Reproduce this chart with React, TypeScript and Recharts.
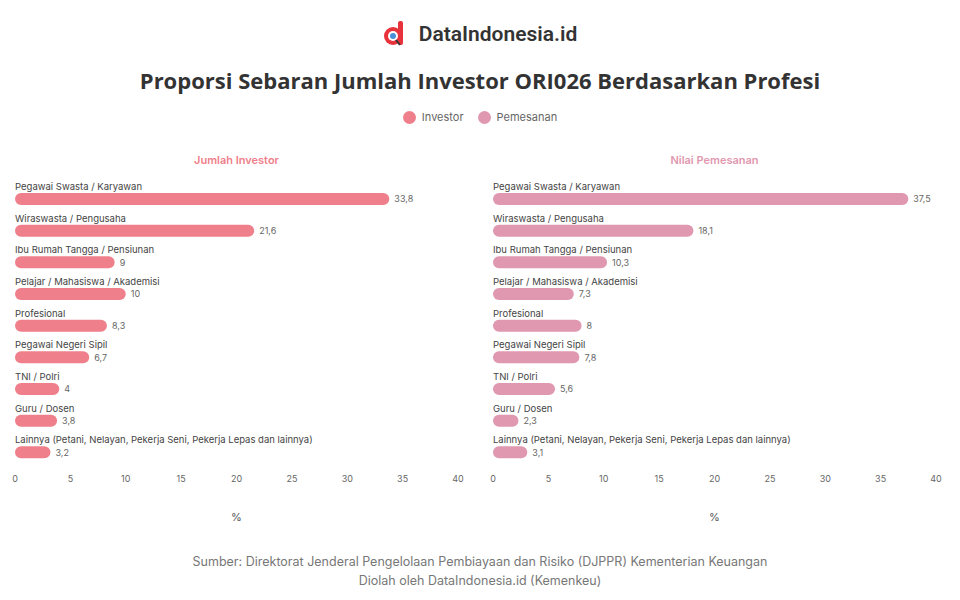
import React from "react";
import { BarChart, Bar, XAxis, YAxis, LabelList } from "recharts";

const categories = [
  "Pegawai Swasta / Karyawan",
  "Wiraswasta / Pengusaha",
  "Ibu Rumah Tangga / Pensiunan",
  "Pelajar / Mahasiswa / Akademisi",
  "Profesional",
  "Pegawai Negeri Sipil",
  "TNI / Polri",
  "Guru / Dosen",
  "Lainnya (Petani, Nelayan, Pekerja Seni, Pekerja Lepas dan lainnya)",
];
const investorValues = [33.8, 21.6, 9.0, 10.0, 8.3, 6.7, 4.0, 3.8, 3.2];
const nominalValues = [37.5, 18.1, 10.3, 7.3, 8.0, 7.8, 5.6, 2.3, 3.1];
const seriesNames = ["Investor", "Pemesanan"];
const panelTitles = ["Jumlah Investor", "Nilai Pemesanan"];
const xTicks = [0, 5, 10, 15, 20, 25, 30, 35, 40];
const colors = ["#EF808B", "#DF98B0"];

const FONT = "Inter, 'Open Sans', sans-serif";

const buildData = (vals: number[]) =>
  categories.map((c, i) => ({ name: c, value: vals[i] }));

const CatLabel = (props: any) => {
  const { x, y, index } = props;
  return (
    <text x={x} y={y - 3} fontSize={9.5} fill="#444" fontFamily={FONT}>
      {categories[index]}
    </text>
  );
};

const Panel = ({ vals, color, title, left }: any) => (
  <div style={{ position: "absolute", left, top: 150, width: 480, height: 390 }}>
    <div
      style={{
        position: "absolute",
        top: 3,
        left: 15,
        width: 443,
        textAlign: "center",
        fontFamily: FONT,
        fontSize: 11,
        fontWeight: 600,
        color,
      }}
    >
      {title}
    </div>
    <BarChart
      width={480}
      height={390}
      layout="vertical"
      data={buildData(vals)}
      margin={{ top: 33, right: 22, bottom: 42, left: 15 }}
      barCategoryGap={0}
    >
      <XAxis
        type="number"
        domain={[0, 40]}
        ticks={xTicks}
        axisLine={false}
        tickLine={false}
        tick={{ fontSize: 9, fill: "#666", fontFamily: FONT }}
        label={{ value: "%", position: "insideBottom", offset: -23, fontSize: 11, fill: "#555", fontFamily: FONT }}
      />
      <YAxis type="category" dataKey="name" hide />
      <Bar dataKey="value" fill={color} barSize={12} radius={[6, 6, 6, 6]} isAnimationActive={false}>
        <LabelList dataKey="name" content={<CatLabel />} />
        <LabelList
          dataKey="value"
          position="right"
          formatter={(v: any) => String(v).replace(".", ",")}
          style={{ fontSize: 9, fill: "#666", fontFamily: FONT }}
        />
      </Bar>
    </BarChart>
  </div>
);

const Logo = () => (
  <svg width={24} height={26} viewBox="0 0 24 26">
    <rect x={15} y={0} width={5} height={24} rx={2} fill="#E8323C" />
    <circle cx={10} cy={15} r={9} fill="#E8323C" />
    <circle cx={10} cy={15} r={5} fill="#fff" />
    <circle cx={10} cy={15} r={3} fill="#4A90D9" />
    <line x1={13} y1={19} x2={17} y2={24} stroke="#333" strokeWidth={2} />
  </svg>
);

export default function App() {
  return (
    <div style={{ position: "absolute", left: 0, top: 0, width: 960, height: 600, background: "#fff", fontFamily: FONT }}>
      <div style={{ position: "absolute", top: 21, left: 0, width: 960, display: "flex", justifyContent: "center", alignItems: "center", gap: 12 }}>
        <Logo />
        <span style={{ fontSize: 21, fontWeight: 600, color: "#333", fontFamily: "Roboto, sans-serif" }}>DataIndonesia.id</span>
      </div>
      <div style={{ position: "absolute", top: 65, left: 0, width: 960, textAlign: "center", fontSize: 22, fontWeight: 700, color: "#333", fontFamily: "'Open Sans', sans-serif" }}>
        Proporsi Sebaran Jumlah Investor ORI026 Berdasarkan Profesi
      </div>
      <div style={{ position: "absolute", top: 110, left: 0, width: 960, display: "flex", justifyContent: "center", gap: 14, fontSize: 11, color: "#666" }}>
        {seriesNames.map((n, i) => (
          <div key={n} style={{ display: "flex", alignItems: "center", gap: 6 }}>
            <div style={{ width: 13, height: 13, borderRadius: 7, background: colors[i] }} />
            <span>{n}</span>
          </div>
        ))}
      </div>
      <Panel vals={investorValues} color={colors[0]} title={panelTitles[0]} left={0} />
      <Panel vals={nominalValues} color={colors[1]} title={panelTitles[1]} left={478} />
      <div style={{ position: "absolute", top: 552, left: 0, width: 960, textAlign: "center", fontSize: 12.5, color: "#777", lineHeight: "19px" }}>
        Sumber: Direktorat Jenderal Pengelolaan Pembiayaan dan Risiko (DJPPR) Kementerian Keuangan
        <br />
        Diolah oleh DataIndonesia.id (Kemenkeu)
      </div>
    </div>
  );
}
